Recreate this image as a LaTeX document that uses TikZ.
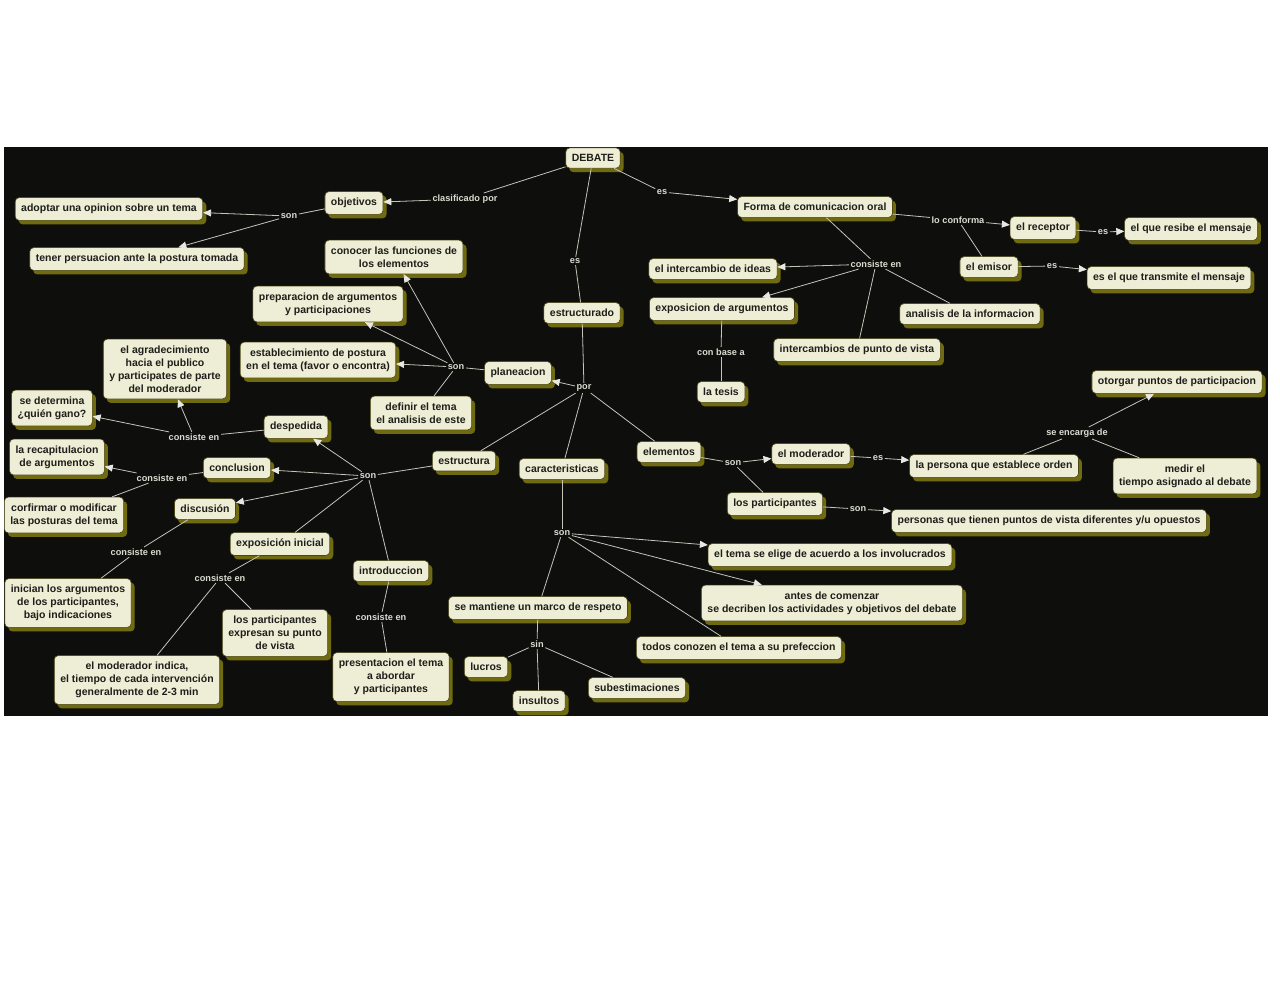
\documentclass[tikz,border=0pt]{standalone}
\usepackage{fontspec}
\setmainfont{Liberation Sans}
\usetikzlibrary{shadows,arrows.meta}
\definecolor{bgk}{HTML}{0E0E0C}
\definecolor{cream}{HTML}{EEEDD5}
\definecolor{bord}{HTML}{4A4712}
\definecolor{shad}{HTML}{706B10}
\definecolor{txt}{HTML}{1E1E1A}
\definecolor{labc}{HTML}{DCDCD2}
\definecolor{linec}{HTML}{C4C4BA}
\definecolor{tipc}{HTML}{E8E8E2}
\pgfdeclarelayer{bg}
\pgfsetlayers{bg,main}
\tikzset{
  concept/.style={draw=bord, line width=0.6pt, fill=cream, rounded corners=4pt,
    text=txt, font=\bfseries\fontsize{10.5}{13}\selectfont, inner xsep=6pt, inner ysep=6.5pt,
    align=center, drop shadow={shadow xshift=3.5pt, shadow yshift=-4pt, fill=shad, opacity=1}},
  lab/.style={text=labc, font=\bfseries\fontsize{9.2}{11}\selectfont, inner sep=1.5pt},
  ln/.style={draw=linec, line width=0.8pt},
  arr/.style={ln, -{Triangle[width=7pt,length=8pt,fill=tipc,color=tipc]}}
}
\begin{document}
\begin{tikzpicture}[x=1pt,y=-1pt]
\useasboundingbox (0,0) rectangle (1280,989);
\begin{pgfonlayer}{bg}
\fill[white] (0,0) rectangle (1280,989);
\fill[bgk] (4,147) rectangle (1268,716);
\end{pgfonlayer}
% concepts
\node[concept] (deb) at (593,158) {DEBATE};
\node[concept] (obj) at (354,203) {objetivos};
\node[concept] (adop) at (109,209) {adoptar una opinion sobre un tema};
\node[concept] (tener) at (137,259) {tener persuacion ante la postura tomada};
\node[concept] (conoc) at (394,257) {conocer las funciones de\\los elementos};
\node[concept] (prep) at (328,304) {preparacion de argumentos\\y participaciones};
\node[concept] (estab) at (318,360) {establecimiento de postura\\en el tema (favor o encontra)};
\node[concept] (agrad) at (165,369) {el agradecimiento\\hacia el publico\\y participates de parte\\del moderador};
\node[concept] (sedet) at (52,408) {se determina\\¿quién gano?};
\node[concept] (defin) at (421,413) {definir el tema\\el analisis de este};
\node[concept] (plan) at (518,373) {planeacion};
\node[concept] (estr) at (582,313) {estructurado};
\node[concept] (desp) at (296,427) {despedida};
\node[concept] (recap) at (57,457) {la recapitulacion\\de argumentos};
\node[concept] (concl) at (237,468) {conclusion};
\node[concept] (estru) at (464,461) {estructura};
\node[concept] (carac) at (562,469) {caracteristicas};
\node[concept] (elem) at (669,452) {elementos};
\node[concept] (corf) at (64,515) {corfirmar o modificar\\las posturas del tema};
\node[concept] (disc) at (205,509) {discusión};
\node[concept] (expin) at (280,544) {exposición inicial};
\node[concept] (intro) at (391,571) {introduccion};
\node[concept] (inic) at (68,603) {inician los argumentos\\de los participantes,\\bajo indicaciones};
\node[concept] (lpexp) at (275,633) {los participantes\\expresan su punto\\de vista};
\node[concept] (modind) at (137,680) {el moderador indica,\\el tiempo de cada intervención\\generalmente de 2-3 min};
\node[concept] (pres) at (391,677) {presentacion el tema\\a abordar\\y participantes};
\node[concept] (marco) at (538,608) {se mantiene un marco de respeto};
\node[concept] (lucr) at (486,667) {lucros};
\node[concept] (insul) at (539,701) {insultos};
\node[concept] (subes) at (637,688) {subestimaciones};
\node[concept] (todos) at (739,648) {todos conozen el tema a su prefeccion};
\node[concept] (elige) at (830,555) {el tema se elige de acuerdo a los involucrados};
\node[concept] (antes) at (832,603) {antes de comenzar\\se decriben los actividades y objetivos del debate};
\node[concept] (forma) at (815,207) {Forma de comunicacion oral};
\node[concept] (inter) at (713,269) {el intercambio de ideas};
\node[concept] (expo) at (722,309) {exposicion de argumentos};
\node[concept] (tesis) at (721,392) {la tesis};
\node[concept] (intpv) at (857,350) {intercambios de punto de vista};
\node[concept] (anal) at (970,314) {analisis de la informacion};
\node[concept] (recep) at (1043,228) {el receptor};
\node[concept] (emis) at (989,267) {el emisor};
\node[concept] (resib) at (1191,229) {el que resibe el mensaje};
\node[concept] (trans) at (1169,278) {es el que transmite el mensaje};
\node[concept] (otorg) at (1177,382) {otorgar puntos de participacion};
\node[concept] (medir) at (1185,476) {medir el\\tiempo asignado al debate};
\node[concept] (mod) at (811,454) {el moderador};
\node[concept] (pers) at (994,466) {la persona que establece orden};
\node[concept] (lpart) at (775,504) {los participantes};
\node[concept] (opues) at (1049,521) {personas que tienen puntos de vista diferentes y/u opuestos};
% link labels
\node[lab] (l1) at (465,199) {clasificado por};
\node[lab] (l2) at (289,216) {son};
\node[lab] (l3) at (575,261) {es};
\node[lab] (l4) at (662,192) {es};
\node[lab] (l5) at (958,220) {lo conforma};
\node[lab] (l6) at (1103,232) {es};
\node[lab] (l7) at (1052,266) {es};
\node[lab] (l8) at (876,264) {consiste en};
\node[lab] (l9) at (721,352) {con base a};
\node[lab] (l10) at (456,367) {son};
\node[lab] (l11) at (584,388) {por};
\node[lab] (l12) at (194,437) {consiste en};
\node[lab] (l13) at (162,478) {consiste en};
\node[lab] (l14) at (368,476) {son};
\node[lab] (l15) at (136,552) {consiste en};
\node[lab] (l16) at (220,578) {consiste en};
\node[lab] (l17) at (381,617) {consiste en};
\node[lab] (l18) at (562,533) {son};
\node[lab] (l19) at (537,644) {sin};
\node[lab] (l20) at (733,463) {son};
\node[lab] (l21) at (878,458) {es};
\node[lab] (l22) at (858,509) {son};
\node[lab] (l23) at (1077,433) {se encarga de};
% connectors
\draw[ln] (deb) -- (l1); \draw[arr] (l1) -- (obj);
\draw[ln] (obj) -- (l2); \draw[arr] (l2) -- (adop); \draw[arr] (l2) -- (tener);
\draw[ln] (deb) -- (l3); \draw[ln] (l3) -- (estr);
\draw[ln] (deb) -- (l4); \draw[arr] (l4) -- (forma);
\draw[ln] (forma) -- (l5); \draw[arr] (l5) -- (recep); \draw[ln] (l5) -- (emis);
\draw[ln] (recep) -- (l6); \draw[arr] (l6) -- (resib);
\draw[ln] (emis) -- (l7); \draw[arr] (l7) -- (trans);
\draw[ln] (forma) -- (l8); \draw[arr] (l8) -- (inter); \draw[arr] (l8) -- (expo);
\draw[ln] (l8) -- (intpv); \draw[ln] (l8) -- (anal);
\draw[ln] (expo) -- (l9); \draw[ln] (l9) -- (tesis);
\draw[ln] (estr) -- (l11); \draw[arr] (l11) -- (plan); \draw[ln] (l11) -- (estru);
\draw[ln] (l11) -- (carac); \draw[ln] (l11) -- (elem);
\draw[ln] (plan) -- (l10); \draw[arr] (l10) -- (conoc); \draw[arr] (l10) -- (prep);
\draw[arr] (l10) -- (estab); \draw[ln] (l10) -- (defin);
\draw[ln] (estru) -- (l14); \draw[arr] (l14) -- (desp); \draw[arr] (l14) -- (concl);
\draw[arr] (l14) -- (disc); \draw[ln] (l14) -- (expin); \draw[ln] (l14) -- (intro);
\draw[ln] (desp) -- (l12); \draw[arr] (l12) -- (agrad); \draw[arr] (l12) -- (sedet);
\draw[ln] (concl) -- (l13); \draw[arr] (l13) -- (recap); \draw[ln] (l13) -- (corf);
\draw[ln] (disc) -- (l15); \draw[ln] (l15) -- (inic);
\draw[ln] (expin) -- (l16); \draw[ln] (l16) -- (lpexp); \draw[ln] (l16) -- (modind);
\draw[ln] (intro) -- (l17); \draw[ln] (l17) -- (pres);
\draw[ln] (carac) -- (l18); \draw[arr] (l18) -- (elige); \draw[arr] (l18) -- (antes);
\draw[ln] (l18) -- (todos); \draw[ln] (l18) -- (marco);
\draw[ln] (marco) -- (l19); \draw[ln] (l19) -- (lucr); \draw[ln] (l19) -- (insul); \draw[ln] (l19) -- (subes);
\draw[ln] (elem) -- (l20); \draw[arr] (l20) -- (mod); \draw[ln] (l20) -- (lpart);
\draw[ln] (mod) -- (l21); \draw[arr] (l21) -- (pers);
\draw[ln] (lpart) -- (l22); \draw[arr] (l22) -- (opues);
\draw[ln] (pers) -- (l23); \draw[arr] (l23) -- (otorg); \draw[ln] (l23) -- (medir);
\end{tikzpicture}
\end{document}
